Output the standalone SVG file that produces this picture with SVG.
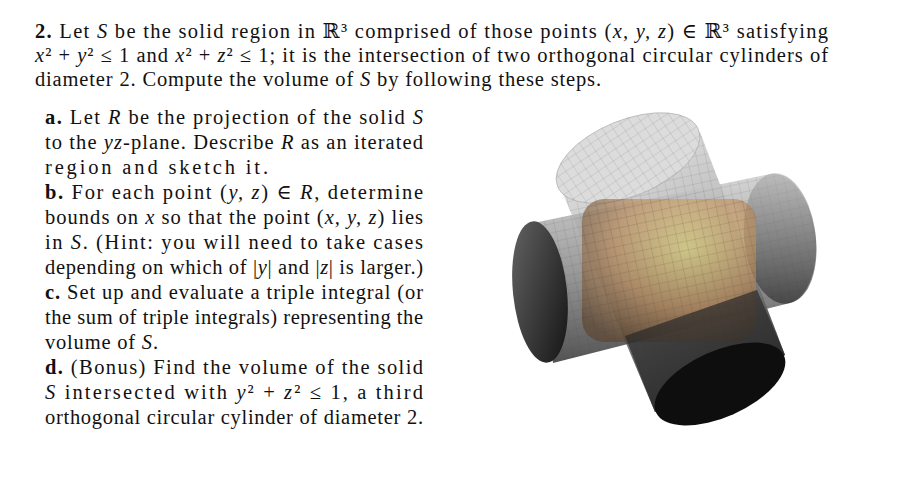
<svg xmlns="http://www.w3.org/2000/svg" width="910" height="486" viewBox="0 0 910 486">
<style>
text{font-family:"Liberation Serif","DejaVu Serif",serif;font-size:20.5px;fill:#111}
.b{font-weight:bold}
.i{font-style:italic}
.grid{fill:url(#grid)}
</style>
<defs>
<linearGradient id="hg" x1="0" y1="0" x2="0" y2="1"><stop offset="0" stop-color="#cfcfcf"/><stop offset="0.5" stop-color="#8a8a8a"/><stop offset="1" stop-color="#353535"/></linearGradient>
<linearGradient id="vg" x1="0" y1="0" x2="0.4" y2="1"><stop offset="0" stop-color="#ececec"/><stop offset="0.45" stop-color="#b5b5b5"/><stop offset="1" stop-color="#222"/></linearGradient>
<linearGradient id="cap" x1="0" y1="0" x2="1" y2="1"><stop offset="0" stop-color="#666"/><stop offset="1" stop-color="#111"/></linearGradient>
<linearGradient id="rcap" x1="0" y1="0" x2="0" y2="1"><stop offset="0" stop-color="#aaa"/><stop offset="1" stop-color="#222"/></linearGradient>
<radialGradient id="og" cx="0.6" cy="0.35" r="0.75"><stop offset="0" stop-color="#efe07a"/><stop offset="0.55" stop-color="#c58e55"/><stop offset="1" stop-color="#5e4128"/></radialGradient>
<pattern id="grid" width="9" height="9" patternUnits="userSpaceOnUse" patternTransform="rotate(-12)"><path d="M0 0H9M0 0V9" stroke="#444" stroke-width="0.6" fill="none" opacity="0.35"/></pattern>
</defs>
<g id="text">
<text x="35" y="38" textLength="793" lengthAdjust="spacing"><tspan class="b">2.</tspan> Let <tspan class="i">S</tspan> be the solid region in ℝ³ comprised of those points (<tspan class="i">x, y, z</tspan>) ∈ ℝ³ satisfying</text>
<text x="35" y="62" textLength="793" lengthAdjust="spacing"><tspan class="i">x</tspan>² + <tspan class="i">y</tspan>² ≤ 1 and <tspan class="i">x</tspan>² + <tspan class="i">z</tspan>² ≤ 1; it is the intersection of two orthogonal circular cylinders of</text>
<text x="35" y="86" textLength="566" lengthAdjust="spacing">diameter 2. Compute the volume of <tspan class="i">S</tspan> by following these steps.</text>
<text x="45" y="124" textLength="378" lengthAdjust="spacing"><tspan class="b">a.</tspan> Let <tspan class="i">R</tspan> be the projection of the solid <tspan class="i">S</tspan></text>
<text x="45" y="149" textLength="378" lengthAdjust="spacing">to the <tspan class="i">yz</tspan>-plane. Describe <tspan class="i">R</tspan> as an iterated</text>
<text x="45" y="174" textLength="223" lengthAdjust="spacing">region and sketch it.</text>
<text x="45" y="199" textLength="378" lengthAdjust="spacing"><tspan class="b">b.</tspan> For each point (<tspan class="i">y, z</tspan>) ∈ <tspan class="i">R</tspan>, determine</text>
<text x="45" y="224" textLength="378" lengthAdjust="spacing">bounds on <tspan class="i">x</tspan> so that the point (<tspan class="i">x, y, z</tspan>) lies</text>
<text x="45" y="249" textLength="378" lengthAdjust="spacing">in <tspan class="i">S</tspan>. (Hint: you will need to take cases</text>
<text x="45" y="274" textLength="378" lengthAdjust="spacing">depending on which of |<tspan class="i">y</tspan>| and |<tspan class="i">z</tspan>| is larger.)</text>
<text x="45" y="299" textLength="378" lengthAdjust="spacing"><tspan class="b">c.</tspan> Set up and evaluate a triple integral (or</text>
<text x="45" y="324" textLength="378" lengthAdjust="spacing">the sum of triple integrals) representing the</text>
<text x="45" y="349" textLength="113" lengthAdjust="spacing">volume of <tspan class="i">S</tspan>.</text>
<text x="45" y="374" textLength="378" lengthAdjust="spacing"><tspan class="b">d.</tspan> (Bonus) Find the volume of the solid</text>
<text x="45" y="399" textLength="378" lengthAdjust="spacing"><tspan class="i">S</tspan> intersected with <tspan class="i">y</tspan>² + <tspan class="i">z</tspan>² ≤ 1, a third</text>
<text x="45" y="424" textLength="378" lengthAdjust="spacing">orthogonal circular cylinder of diameter 2.</text>
</g>
<g id="figure">
<path d="M558 182 L655 412 L785 355 L700 132 Z" fill="url(#vg)" opacity="0.85"/>
<path d="M558 182 L655 412 L785 355 L700 132 Z" class="grid"/>
<ellipse cx="628" cy="158" rx="76" ry="38" transform="rotate(-22 628 158)" fill="#dcdcdc" stroke="#aaa" stroke-width="0.6"/>
<ellipse cx="628" cy="158" rx="76" ry="38" transform="rotate(-22 628 158)" class="grid"/>
<path d="M538 222 L770 174 A35 64 -8 0 1 790 303 L553 363 Z" fill="url(#hg)" opacity="0.85"/>
<path d="M538 222 L770 174 A35 64 -8 0 1 790 303 L553 363 Z" class="grid"/>
<path d="M770 174 A35 64 -6 0 1 790 303 A35 64 -6 0 1 770 174 Z" fill="url(#rcap)" opacity="0.6"/>
<ellipse cx="540" cy="292" rx="27" ry="71" transform="rotate(-6 540 292)" fill="url(#cap)"/>
<rect x="582" y="199" width="174" height="143" rx="22" fill="url(#og)" opacity="0.6"/>
<rect x="582" y="199" width="174" height="143" rx="22" class="grid"/>
<path d="M625 336 L655 412 L785 355 L757 290 Z" fill="#2a2a2a" opacity="0.7"/>
<ellipse cx="720" cy="384" rx="70" ry="33" transform="rotate(-24 720 384)" fill="#0e0e0e"/>
</g>
</svg>
